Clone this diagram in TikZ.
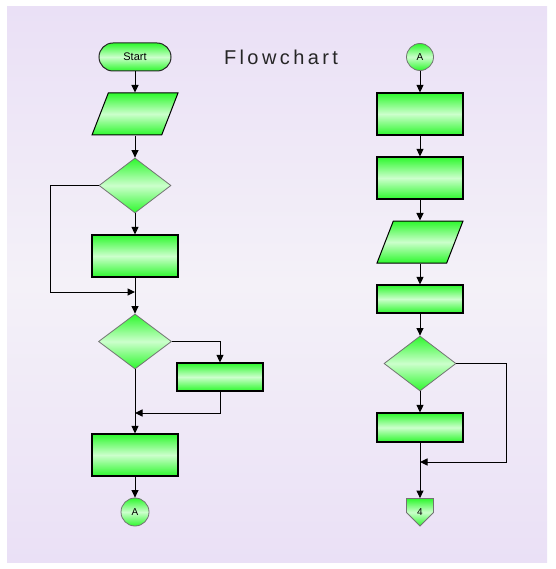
\documentclass[tikz,border=0pt]{standalone}
\usepackage{fontspec}
\setmainfont{Liberation Sans}
\usetikzlibrary{shapes.geometric,shapes.symbols,arrows.meta}
\definecolor{bgEdge}{RGB}{234,224,246}
\definecolor{bgMid}{RGB}{244,241,248}
\definecolor{gEdge}{RGB}{45,248,45}
\definecolor{gMid}{RGB}{204,255,204}

\begin{document}
\begin{tikzpicture} [x=1pt, y=-1pt, align=center,
    gfill/.style={top color=gEdge, bottom color=gEdge, middle color=gMid},
    term/.style={gfill, draw=black!85, line width=1pt, rounded corners=14pt,
      minimum width=72pt, minimum height=28pt, inner sep=0pt, font=\fontsize{11}{12}\selectfont},
    proc/.style={gfill, draw=black, line width=1.2pt, minimum width=86pt, inner sep=0pt},
    io/.style={trapezium, trapezium left angle=73, trapezium right angle=107,
      trapezium stretches=true, gfill, draw=black, line width=1pt,
      minimum width=86pt, minimum height=42pt, inner sep=2pt},
    dec/.style={diamond, gfill, draw=black!55, line width=0.8pt,
      minimum width=72pt, minimum height=55pt, inner sep=2pt},
    conn/.style={circle, gfill, draw=black!55, line width=0.8pt, minimum size=28pt,
      inner sep=0pt, font=\fontsize{10}{10}\selectfont},
    offpg/.style={signal, signal to=south, signal from=nowhere, gfill, draw=black!55,
      line width=0.8pt, minimum width=27pt, minimum height=15pt, inner sep=1pt},
    flow/.style={-{Triangle[length=7.5pt,width=7pt]}, line width=1pt}]
  \useasboundingbox (0,0) rectangle (555,569);
  \fill [top color=bgEdge, bottom color=bgEdge, middle color=bgMid] (7,7) rectangle (547,562);
  \node (title) at (281,57) {\fontsize{20}{22}\selectfont\addfontfeatures{LetterSpace=17}\color{black!85}Flowchart};
  % left column
  \path  (135,57)     node[term](start) {Start}
          ++(0,57)    node[io](inL) {}
          ++(0,71.5)  node[dec](decL1) {}
          ++(0,70.5)  node[proc, minimum height=42pt](procL1) {}
          ++(0,85.5)  node[dec, minimum width=73pt](decL2) {}
           +(85,35.5) node[proc, minimum height=28pt](procL2) {}
          ++(0,113.5) node[proc, minimum height=42pt](procL3) {}
          ++(0,57)    node[conn](conA) {A};
  % right column
  \path  (420,57)     node[conn, minimum size=27pt](conB) {A}
          ++(0,57)    node[proc, minimum height=42pt](procR1) {}
          ++(0,64)    node[proc, minimum height=42pt](procR2) {}
          ++(0,64)    node[io](inR) {}
          ++(0,57)    node[proc, minimum height=28pt](procR3) {}
          ++(0,64.5)  node[dec](decR) {}
          ++(0,64)    node[proc, minimum height=29pt](procR4) {}
          ++(0,78)    node[offpg, label={[label distance=-17.6pt, inner sep=0pt,
                        font=\fontsize{10}{10}\selectfont]90:4}](off) {};
  \path (50,292) coordinate(loopL1) (135,292) coordinate(joinL1)
        (135,413) coordinate(joinL2)
        (506,462) coordinate(loopR) (420,462) coordinate(joinR);
  \draw [flow] (start) to (inL);
  \draw [flow] (inL) to (decL1);
  \draw [flow] (decL1) to (procL1);
  \draw [flow] (decL1.west) -| (loopL1) to (joinL1);
  \draw [flow] (procL1) to (decL2);
  \draw [flow] (decL2.east) -| (procL2.north);
  \draw [flow] (procL2.south) |- (joinL2);
  \draw [flow] (decL2) to (procL3);
  \draw [flow] (procL3) to (conA);
  \draw [flow] (conB) to (procR1);
  \draw [flow] (procR1) to (procR2);
  \draw [flow] (procR2) to (inR);
  \draw [flow] (inR) to (procR3);
  \draw [flow] (procR3) to (decR);
  \draw [flow] (decR) to (procR4);
  \draw [flow] (decR.east) -| (loopR) to (joinR);
  \draw [flow] (procR4) to (off);
\end{tikzpicture}
\end{document}
